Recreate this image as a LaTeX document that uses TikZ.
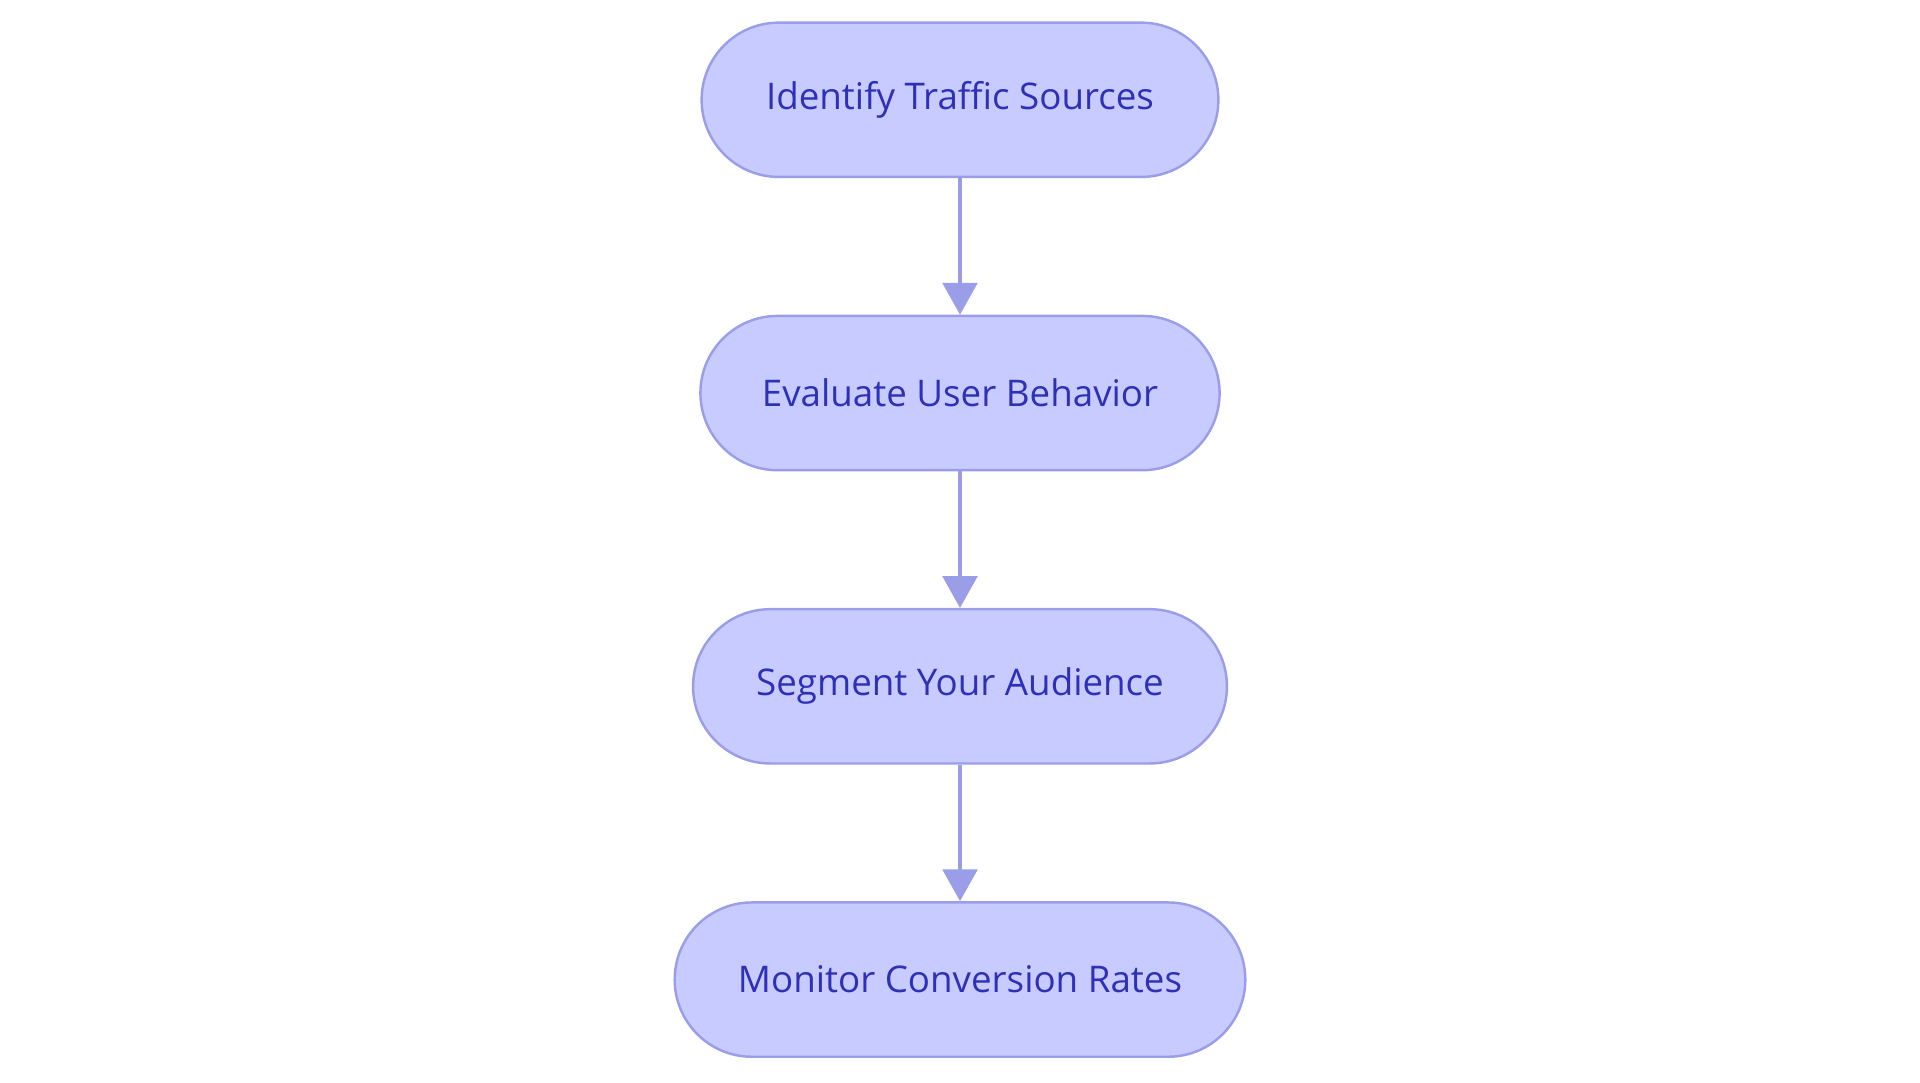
\documentclass[tikz,border=0pt]{standalone}
\usepackage{fontspec}
\setmainfont{Open Sans}
\usetikzlibrary{arrows.meta}
\definecolor{nfill}{HTML}{C8CBFF}
\definecolor{nline}{HTML}{9A9EE8}
\definecolor{ntext}{HTML}{2E31B8}
\begin{document}
\begin{tikzpicture}[x=0.5pt,y=-0.5pt,
  box/.style={draw=nline,line width=1pt,fill=nfill,rounded corners=31.5pt,text=ntext,font=\fontsize{15}{18}\selectfont,inner sep=0pt},
  arr/.style={draw=nline,line width=2pt,-{Triangle[length=13pt,width=14pt]}}]
\useasboundingbox (0,0) rectangle (1568,884);
\node[box,minimum width=211pt,minimum height=63pt] (a) at (784,81.5) {Identify Traffic Sources};
\node[box,minimum width=212pt,minimum height=63pt] (b) at (784,321) {Evaluate User Behavior};
\node[box,minimum width=218pt,minimum height=63pt] (c) at (784,560.5) {Segment Your Audience};
\node[box,minimum width=233pt,minimum height=63pt] (d) at (784,800) {Monitor Conversion Rates};
\draw[arr] (a) -- (b);
\draw[arr] (b) -- (c);
\draw[arr] (c) -- (d);
\end{tikzpicture}
\end{document}
